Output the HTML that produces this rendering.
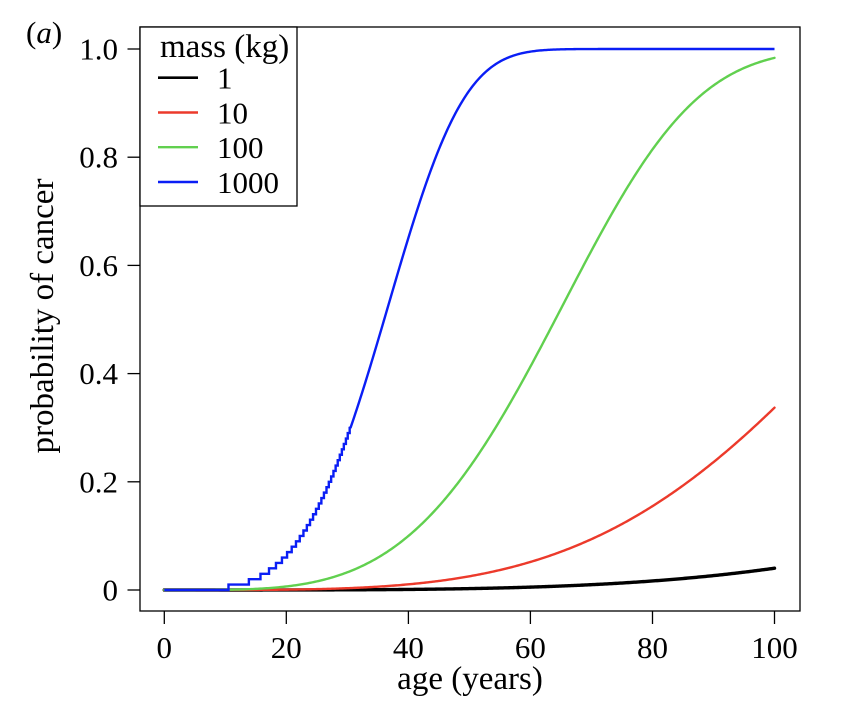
<!DOCTYPE html>
<html>
<head>
<meta charset="utf-8">
<style>
  html, body { margin:0; padding:0; background:#fff; }
  svg { display:block; }
  text { font-family: "Liberation Serif", "Times New Roman", serif; fill:#000; }
</style>
</head>
<body>
<svg id="chart" width="842" height="708" viewBox="0 0 842 708" xmlns="http://www.w3.org/2000/svg">
  <rect x="0" y="0" width="842" height="708" fill="#fff"/>

  <!-- panel label -->
  <text x="26" y="43" font-size="31">(<tspan font-style="italic">a</tspan>)</text>

  <!-- curves -->
  <path id="cBlack" d="" fill="none" stroke="#000000" stroke-width="3.4" stroke-linejoin="round" stroke-linecap="round"/>
  <path id="cRed" d="" fill="none" stroke="#EC3A2B" stroke-width="2.4" stroke-linejoin="round" stroke-linecap="round"/>
  <path id="cGreen" d="" fill="none" stroke="#61D04F" stroke-width="2.4" stroke-linejoin="round" stroke-linecap="round"/>
  <path id="cBlue" d="" fill="none" stroke="#0A1EF5" stroke-width="2.4" stroke-linejoin="miter" stroke-linecap="butt"/>

  <!-- plot box -->
  <rect x="140" y="27" width="660" height="584" fill="none" stroke="#000" stroke-width="1.3"/>

  <!-- x axis ticks -->
  <g stroke="#000" stroke-width="1.3">
    <line x1="164.3" y1="611" x2="164.3" y2="624"/>
    <line x1="286.3" y1="611" x2="286.3" y2="624"/>
    <line x1="408.4" y1="611" x2="408.4" y2="624"/>
    <line x1="530.4" y1="611" x2="530.4" y2="624"/>
    <line x1="652.5" y1="611" x2="652.5" y2="624"/>
    <line x1="774.5" y1="611" x2="774.5" y2="624"/>
  </g>
  <g font-size="31" text-anchor="middle">
    <text x="164.3" y="658">0</text>
    <text x="286.3" y="658">20</text>
    <text x="408.4" y="658">40</text>
    <text x="530.4" y="658">60</text>
    <text x="652.5" y="658">80</text>
    <text x="774.5" y="658">100</text>
  </g>
  <text x="470" y="689" font-size="33" text-anchor="middle">age (years)</text>

  <!-- y axis ticks -->
  <g stroke="#000" stroke-width="1.3">
    <line x1="127.5" y1="590" x2="140" y2="590"/>
    <line x1="127.5" y1="481.8" x2="140" y2="481.8"/>
    <line x1="127.5" y1="373.6" x2="140" y2="373.6"/>
    <line x1="127.5" y1="265.4" x2="140" y2="265.4"/>
    <line x1="127.5" y1="157.2" x2="140" y2="157.2"/>
    <line x1="127.5" y1="49" x2="140" y2="49"/>
  </g>
  <g font-size="31" text-anchor="end">
    <text x="118" y="600.5">0</text>
    <text x="118" y="492.3">0.2</text>
    <text x="118" y="384.1">0.4</text>
    <text x="118" y="275.9">0.6</text>
    <text x="118" y="167.7">0.8</text>
    <text x="118" y="59.5">1.0</text>
  </g>
  <text x="0" y="0" font-size="33" text-anchor="middle" transform="translate(53,316) rotate(-90)">probability of cancer</text>

  <!-- legend -->
  <rect x="140" y="27" width="157" height="179" fill="#fff" stroke="#000" stroke-width="1.3"/>
  <text x="160" y="57" font-size="33">mass (kg)</text>
  <line x1="158" y1="77.7" x2="198" y2="77.7" stroke="#000" stroke-width="2.7"/>
  <line x1="158" y1="112.5" x2="198" y2="112.5" stroke="#EC3A2B" stroke-width="2.4"/>
  <line x1="158" y1="147.2" x2="198" y2="147.2" stroke="#61D04F" stroke-width="2.4"/>
  <line x1="158" y1="182" x2="198" y2="182" stroke="#0A1EF5" stroke-width="2.4"/>
  <g font-size="31">
    <text x="217" y="88.5">1</text>
    <text x="217" y="123.3">10</text>
    <text x="217" y="158">100</text>
    <text x="217" y="192.8">1000</text>
  </g>
</svg>
<script>
(function(){
  function X(t){return 164.3 + t*6.102;}
  function Y(p){return 590 - p*541;}
  function P(M,t){return 1 - Math.exp(-0.0411*M*Math.pow(t/100,4));}
  function smooth(M){
    var d = "";
    for (var i=0;i<=400;i++){
      var t = i*0.25;
      d += (i===0?"M":"L") + X(t).toFixed(2) + "," + Y(P(M,t)).toFixed(2);
    }
    return d;
  }
  document.getElementById("cBlack").setAttribute("d", smooth(1));
  document.getElementById("cRed").setAttribute("d", smooth(10));
  document.getElementById("cGreen").setAttribute("d", smooth(100));
  var d = "M" + X(0).toFixed(2) + "," + Y(0).toFixed(2);
  var prev = 0;
  var t = 0;
  var switched = false;
  while (t <= 100.0001){
    var p = P(1000,t);
    if (!switched && p < 0.3){
      var pr = Math.round(p*100)/100;
      if (pr !== prev){
        d += "L" + X(t).toFixed(2) + "," + Y(prev).toFixed(2);
        d += "L" + X(t).toFixed(2) + "," + Y(pr).toFixed(2);
        prev = pr;
      }
      t += 0.02;
    } else {
      switched = true;
      d += "L" + X(t).toFixed(2) + "," + Y(p).toFixed(2);
      t += 0.2;
    }
  }
  d += "L" + X(100).toFixed(2) + "," + Y(P(1000,100)).toFixed(2);
  document.getElementById("cBlue").setAttribute("d", d);
})();
</script>
</body>
</html>
